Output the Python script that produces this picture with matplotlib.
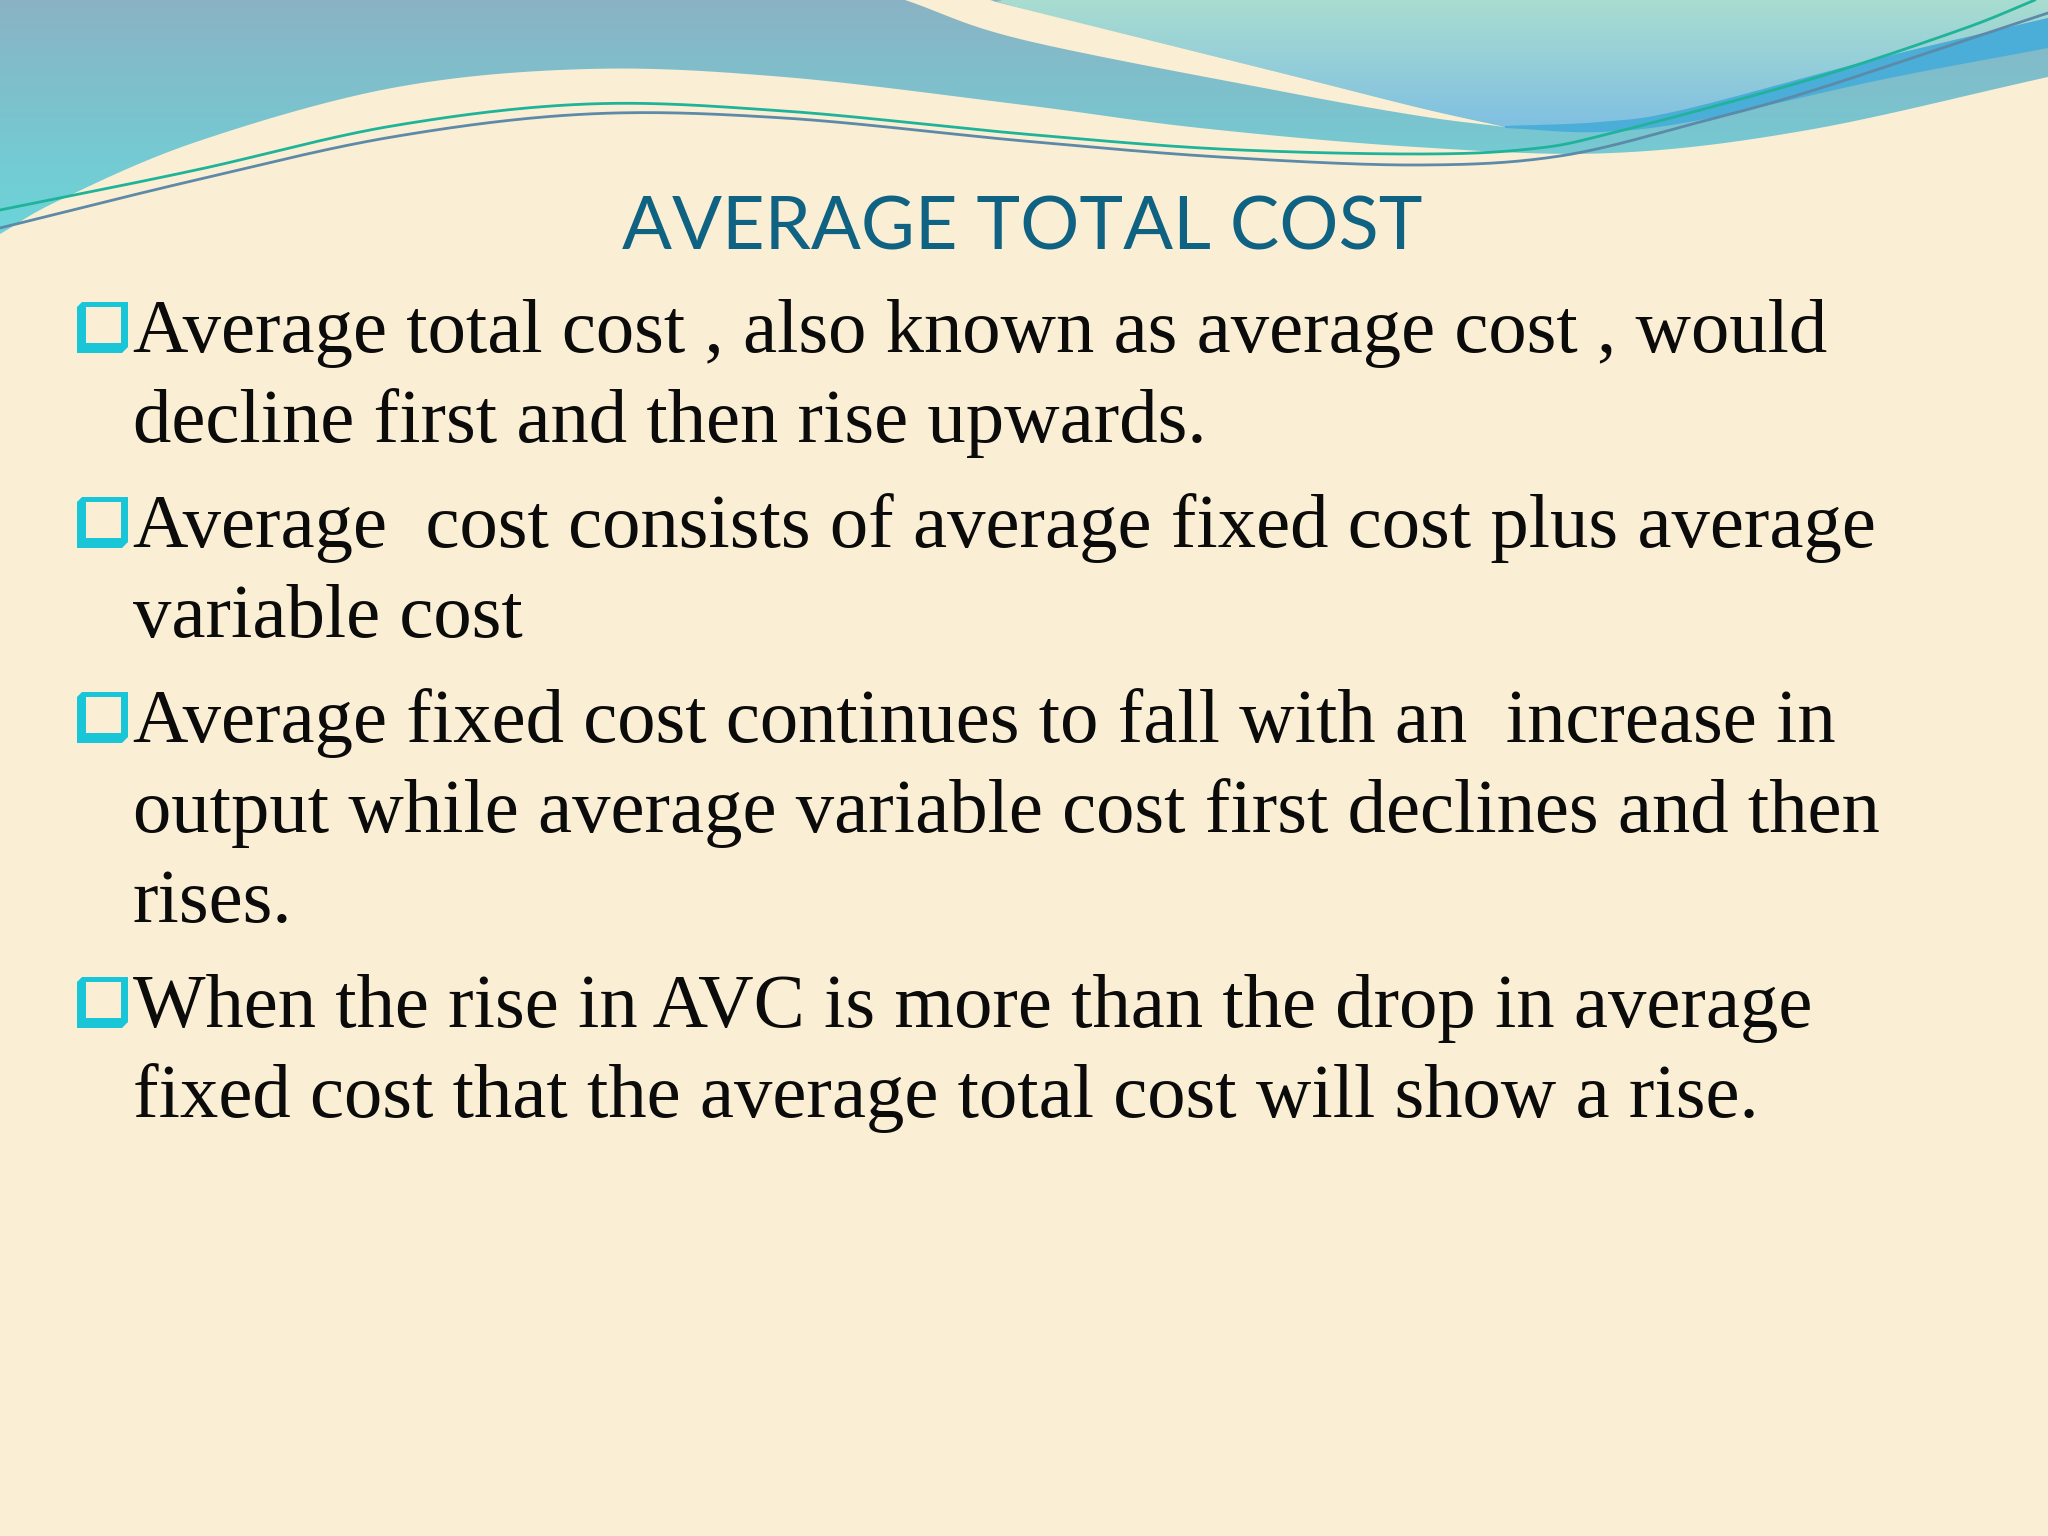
import numpy as np
import matplotlib
matplotlib.use("Agg")
import matplotlib.pyplot as plt
from matplotlib.patches import Polygon
from matplotlib.colors import to_rgb

# slide text
title = "AVERAGE TOTAL COST"
bullets = [
    ["Average total cost , also known as average cost , would",
     "decline first and then rise upwards."],
    ["Average  cost consists of average fixed cost plus average",
     "variable cost"],
    ["Average fixed cost continues to fall with an  increase in",
     "output while average variable cost first declines and then",
     "rises."],
    ["When the rise in AVC is more than the drop in average",
     "fixed cost that the average total cost will show a rise."],
]

W, H = 2048, 1536
CREAM = "#faefd4"


def catmull(pts, n=40):
    # smooth curve through the given points
    p = np.asarray(pts, float)
    p = np.vstack([2 * p[0] - p[1], p, 2 * p[-1] - p[-2]])
    out = []
    for i in range(1, len(p) - 2):
        p0, p1, p2, p3 = p[i - 1], p[i], p[i + 1], p[i + 2]
        t = np.linspace(0, 1, n, endpoint=False)[:, None]
        c = 0.5 * ((2 * p1) + (-p0 + p2) * t + (2 * p0 - 5 * p1 + 4 * p2 - p3) * t ** 2
                   + (-p0 + 3 * p1 - 3 * p2 + p3) * t ** 3)
        out.append(c)
    out.append(p[-2][None, :])
    return np.vstack(out)


def grad_fill(ax, poly, c_top, c_bot, y0, y1, z):
    patch = Polygon(poly, closed=True, facecolor="none", edgecolor="none", zorder=z)
    ax.add_patch(patch)
    t = np.linspace(0, 1, 256)[:, None, None]
    img = (1 - t) * np.array(to_rgb(c_top)) + t * np.array(to_rgb(c_bot))
    img = np.repeat(img, 2, axis=1)
    im = ax.imshow(img, extent=(0, W, y1, y0), aspect="auto", zorder=z, interpolation="bilinear")
    im.set_clip_path(patch)


fig = plt.figure(figsize=(W / 100, H / 100), dpi=100)
fig.patch.set_facecolor(CREAM)
ax = fig.add_axes([0, 0, 1, 1])
ax.set_xlim(0, W)
ax.set_ylim(H, 0)
ax.axis("off")
ax.set_facecolor(CREAM)

# main teal wave
lower = catmull([(2048, 77), (1808, 130), (1612, 153), (1416, 147), (1200, 128),
                 (1024, 105), (784, 77), (588, 69), (392, 88), (196, 142), (60, 200), (0, 234)])
teal = np.vstack([[(0, 0), (W, 0)], lower])
grad_fill(ax, teal, "#8ab3c4", "#6ad6da", 0, 240, 1)

# light top-right area
top_edge = catmull([(1000, 0), (1024, 9), (1285, 74), (1420, 108), (1505, 126)])
band_up = catmull([(1505, 126), (1600, 122), (1682, 110), (1872, 60), (2048, 18)])
light = np.vstack([top_edge, band_up, [(W, 0)]])
grad_fill(ax, light, "#a9ddd0", "#7fbfe2", 0, 130, 2)

# darker blue ribbon
band_lo = catmull([(1505, 128), (1600, 132), (1700, 120), (1880, 80), (2048, 48)])
ribbon = np.vstack([band_up, band_lo[::-1]])
ax.add_patch(Polygon(ribbon, closed=True, facecolor="#4aaed8", edgecolor="none", zorder=3))

# cream swoosh
sw_up = catmull([(990, 0), (1024, 9), (1285, 74), (1420, 108), (1505, 127)])
sw_lo = catmull([(905, 0), (1024, 40), (1285, 92), (1420, 116), (1505, 127)])
swoosh = np.vstack([sw_up, sw_lo[::-1]])
ax.add_patch(Polygon(swoosh, closed=True, facecolor=CREAM, edgecolor="none", zorder=4))

# thin lines
line_a = catmull([(0, 210), (196, 170), (392, 126), (588, 104), (784, 111), (1024, 134),
                  (1220, 149), (1416, 154), (1530, 149), (1612, 133), (1808, 80),
                  (1960, 30), (2035, 0)])
line_b = catmull([(0, 228), (196, 180), (392, 137), (588, 114), (784, 118), (1024, 141),
                  (1220, 157), (1416, 165), (1560, 156), (1700, 122), (1808, 92),
                  (1960, 42), (2048, 13)])
ax.plot(line_a[:, 0], line_a[:, 1], color="#1fb39a", lw=2.0, zorder=5, solid_capstyle="round")
ax.plot(line_b[:, 0], line_b[:, 1], color="#5c8aa8", lw=2.0, zorder=5, solid_capstyle="round")

# title
t_title = ax.text(1022, 250, title, ha="center", va="baseline", color="#0f6282",
                  fontfamily="Lato", fontsize=60, zorder=6)

# body text
x_text = 133
baselines = []
y = 352
for para in bullets:
    for j, _ in enumerate(para):
        baselines.append((y, j == 0))
        y += 90
    y += 15

texts = []
k = 0
for para in bullets:
    for line in para:
        yb, first = baselines[k]
        t = ax.text(x_text, yb, line, ha="left", va="baseline", color="#0b0b0b",
                    fontfamily="Liberation Serif", fontsize=50, zorder=6)
        texts.append(t)
        if first:
            x0, y0, s = 77, yb - 50, 51
            outer = [(x0 + 5, y0), (x0 + s, y0), (x0 + s, y0 + s - 6), (x0 + s - 6, y0 + s),
                     (x0, y0 + s), (x0, y0 + 5)]
            inner = [(x0 + 9, y0 + 5), (x0 + s - 7, y0 + 5), (x0 + s - 7, y0 + s - 10),
                     (x0 + 9, y0 + s - 10)]
            ax.add_patch(Polygon(outer, closed=True, facecolor="#18c6d8", edgecolor="none", zorder=6))
            ax.add_patch(Polygon(inner, closed=True, facecolor=CREAM, edgecolor="none", zorder=7))
        k += 1

# fit font sizes to the widths on the slide
fig.canvas.draw()
r = fig.canvas.get_renderer()
w_title = t_title.get_window_extent(r).width
t_title.set_fontsize(60 * 801 / w_title)
w_line = texts[0].get_window_extent(r).width
for t in texts:
    t.set_fontsize(50 * 1696 / w_line)

fig.savefig("out.png", dpi=100, facecolor=CREAM)
